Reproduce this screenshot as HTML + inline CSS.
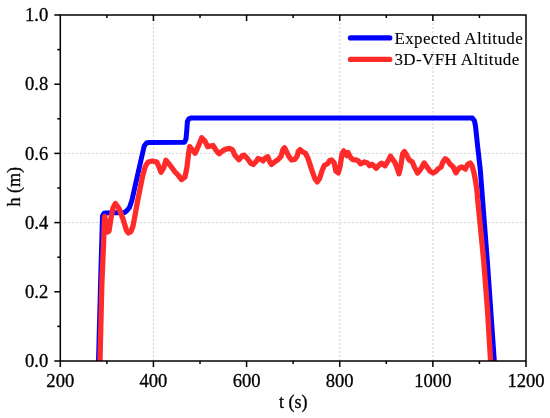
<!DOCTYPE html>
<html><head><meta charset="utf-8"><style>
html,body{margin:0;padding:0;background:#fff;}
svg{display:block;}
text{font-family:"Liberation Serif","Times New Roman",serif;fill:#000;stroke:#000;stroke-width:0.3px;}
.lg text{stroke-width:0.1px;}
</style></head><body>
<svg width="550" height="418" viewBox="0 0 550 418">
<rect width="550" height="418" fill="#fff"/>
<g stroke="#d2d2d2" stroke-width="1" stroke-dasharray="2 2"><line x1="153.44" y1="15.0" x2="153.44" y2="361.0"/><line x1="339.72" y1="15.0" x2="339.72" y2="361.0"/><line x1="432.86" y1="15.0" x2="432.86" y2="361.0"/><line x1="60.3" y1="222.60" x2="526.0" y2="222.60"/><line x1="60.3" y1="153.40" x2="526.0" y2="153.40"/></g>
<defs><clipPath id="c"><rect x="60.3" y="0" width="465.7" height="361.0"/></clipPath></defs>
<g clip-path="url(#c)" fill="none" stroke-linejoin="round" stroke-linecap="round">
<polyline points="98.5,361.0 100.5,285.0 102.5,216.0 104.0,213.3 106.0,212.9 124.5,212.5 127.0,210.5 129.5,207.5 132.0,200.0 136.0,182.0 144.2,146.0 146.5,143.0 149.0,142.5 184.5,142.3 186.0,139.0 186.8,130.0 187.4,121.5 188.8,118.8 190.8,118.1 472.5,118.1 474.5,121.0 475.5,126.0 477.5,145.0 480.3,170.0 487.4,262.0 494.3,361.0" stroke="#0000ff" stroke-width="5"/>
<polyline points="100.0,361.0 101.8,285.0 103.5,245.0 104.3,222.0 104.6,216.5 105.5,220.0 107.5,232.0 109.0,231.0 111.0,218.0 113.0,208.0 115.4,203.5 119.0,208.5 123.0,219.0 126.5,230.5 128.5,233.0 131.0,231.5 133.0,226.0 134.8,216.5 137.8,200.0 139.8,190.0 142.6,176.0 145.3,166.5 148.0,162.0 152.5,161.0 156.9,162.1 159.0,167.0 161.1,172.3 163.5,168.1 165.9,160.3 170.7,166.0 175.0,172.0 178.0,175.0 181.5,179.5 185.0,177.0 187.0,167.0 188.5,154.0 189.7,146.7 192.1,149.7 195.1,153.3 198.1,146.7 201.7,137.8 204.7,140.8 207.7,146.7 213.0,145.5 215.6,149.5 217.8,152.5 219.2,153.7 222.2,151.3 225.2,149.3 229.4,148.3 232.5,149.8 234.7,154.9 238.9,159.7 242.5,155.5 244.3,155.2 247.3,158.5 250.9,163.3 253.3,164.5 257.0,160.5 258.0,158.5 261.7,159.7 263.0,160.9 265.4,157.9 267.8,156.7 269.6,161.5 271.4,164.5 274.4,162.1 277.9,159.7 280.9,156.7 282.7,150.1 284.5,147.7 286.3,151.3 288.7,156.1 291.5,160.0 294.7,159.5 297.1,156.1 298.3,151.3 300.1,149.5 302.5,151.9 305.4,153.2 307.8,157.9 310.2,165.1 312.6,172.3 315.0,178.9 317.3,181.9 319.7,178.3 322.1,170.5 324.5,165.1 327.5,163.9 329.9,160.3 331.7,160.0 334.1,162.7 335.9,171.1 338.3,172.9 340.1,166.3 341.9,154.4 343.7,150.8 346.7,155.6 348.0,152.5 350.4,157.3 352.8,159.7 356.5,160.0 358.2,160.9 360.6,163.9 364.5,162.0 367.1,162.7 369.5,165.7 372.0,164.3 376.3,168.3 379.7,164.5 381.5,163.2 385.1,165.7 388.1,160.9 390.5,156.1 392.8,159.7 394.8,162.3 397.2,168.3 399.0,173.7 400.8,165.9 402.6,153.9 404.4,151.5 406.7,155.1 409.1,159.9 412.1,161.7 414.5,167.1 417.5,173.1 420.5,169.5 424.1,162.9 427.1,167.1 430.1,171.3 433.1,173.1 436.7,170.7 438.0,168.9 441.0,167.1 442.8,162.3 445.2,158.7 447.6,160.5 450.0,164.1 452.9,166.5 456.0,172.8 458.9,168.3 461.9,167.0 465.4,169.1 467.8,164.3 470.2,163.0 471.9,165.5 473.7,171.5 474.9,177.5 476.1,184.6 477.1,191.8 477.7,200.0 480.5,228.0 483.8,262.0 487.5,310.0 490.6,361.0" stroke="#ff2a2a" stroke-width="5.3"/>
</g>
<g stroke="#000" stroke-width="1.5" fill="none">
<rect x="60.3" y="15.0" width="465.7" height="346.0"/>
<line x1="60.30" y1="361.0" x2="60.30" y2="367.0"/><line x1="106.87" y1="361.0" x2="106.87" y2="364.0"/><line x1="106.87" y1="15.0" x2="106.87" y2="18.0"/><line x1="153.44" y1="361.0" x2="153.44" y2="367.0"/><line x1="153.44" y1="15.0" x2="153.44" y2="21.0"/><line x1="200.01" y1="361.0" x2="200.01" y2="364.0"/><line x1="200.01" y1="15.0" x2="200.01" y2="18.0"/><line x1="246.58" y1="361.0" x2="246.58" y2="367.0"/><line x1="246.58" y1="15.0" x2="246.58" y2="21.0"/><line x1="293.15" y1="361.0" x2="293.15" y2="364.0"/><line x1="293.15" y1="15.0" x2="293.15" y2="18.0"/><line x1="339.72" y1="361.0" x2="339.72" y2="367.0"/><line x1="339.72" y1="15.0" x2="339.72" y2="21.0"/><line x1="386.29" y1="361.0" x2="386.29" y2="364.0"/><line x1="386.29" y1="15.0" x2="386.29" y2="18.0"/><line x1="432.86" y1="361.0" x2="432.86" y2="367.0"/><line x1="432.86" y1="15.0" x2="432.86" y2="21.0"/><line x1="479.43" y1="361.0" x2="479.43" y2="364.0"/><line x1="479.43" y1="15.0" x2="479.43" y2="18.0"/><line x1="526.00" y1="361.0" x2="526.00" y2="367.0"/><line x1="54.3" y1="361.00" x2="60.3" y2="361.00"/><line x1="57.3" y1="326.40" x2="60.3" y2="326.40"/><line x1="54.3" y1="291.80" x2="60.3" y2="291.80"/><line x1="57.3" y1="257.20" x2="60.3" y2="257.20"/><line x1="54.3" y1="222.60" x2="60.3" y2="222.60"/><line x1="57.3" y1="188.00" x2="60.3" y2="188.00"/><line x1="54.3" y1="153.40" x2="60.3" y2="153.40"/><line x1="57.3" y1="118.80" x2="60.3" y2="118.80"/><line x1="54.3" y1="84.20" x2="60.3" y2="84.20"/><line x1="57.3" y1="49.60" x2="60.3" y2="49.60"/><line x1="54.3" y1="15.00" x2="60.3" y2="15.00"/>
</g>
<g font-size="19.5" text-anchor="middle"><text transform="translate(60.30,387.4) scale(0.955,1)">200</text><text transform="translate(153.44,387.4) scale(0.955,1)">400</text><text transform="translate(246.58,387.4) scale(0.955,1)">600</text><text transform="translate(339.72,387.4) scale(0.955,1)">800</text><text transform="translate(432.86,387.4) scale(0.955,1)">1000</text><text transform="translate(526.00,387.4) scale(0.955,1)">1200</text></g>
<g font-size="19.5" text-anchor="end"><text transform="translate(48.3,367.10) scale(0.955,1)">0.0</text><text transform="translate(48.3,297.90) scale(0.955,1)">0.2</text><text transform="translate(48.3,228.70) scale(0.955,1)">0.4</text><text transform="translate(48.3,159.50) scale(0.955,1)">0.6</text><text transform="translate(48.3,90.30) scale(0.955,1)">0.8</text><text transform="translate(48.3,21.10) scale(0.955,1)">1.0</text></g>
<text x="293.2" y="407.8" font-size="18" text-anchor="middle">t (s)</text>
<text transform="translate(19.9,186.8) rotate(-90)" font-size="19" text-anchor="middle" textLength="39.4" lengthAdjust="spacingAndGlyphs">h (m)</text>
<g fill="none" stroke-linecap="round" stroke-width="5.4">
<line x1="350.5" y1="37.9" x2="389.7" y2="37.9" stroke="#0000ff"/>
<line x1="350.5" y1="59.4" x2="389.7" y2="59.4" stroke="#ff2a2a"/>
</g>
<g class="lg" font-size="17" letter-spacing="0.38">
<text x="394.4" y="43.7">Expected Altitude</text>
<text x="394.4" y="64.8">3D-VFH Altitude</text>
</g>
</svg>
</body></html>
